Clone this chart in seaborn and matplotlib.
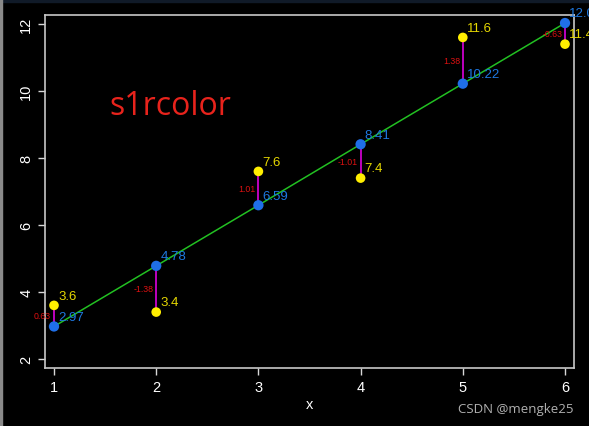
import matplotlib
matplotlib.use("Agg")
import matplotlib.pyplot as plt
import matplotlib.patches as mpatches
import seaborn as sns
import pandas as pd

# ---- data ----
x_vals = [1, 2, 3, 4, 5, 6]
observed = [3.6, 3.4, 7.6, 7.4, 11.6, 11.4]
fitted = [2.97, 4.78, 6.59, 8.41, 10.22, 12.03]
residuals = [0.63, -1.38, 1.01, -1.01, 1.38, -0.63]
x_ticks = [1, 2, 3, 4, 5, 6]
y_ticks = [2, 4, 6, 8, 10, 12]
title_text = "s1rcolor"
x_label = "x"
watermark = "CSDN @mengke25"

df = pd.DataFrame({"x": x_vals, "obs": observed, "fit": fitted, "res": residuals})

sns.set_theme(style="white")
plt.rcParams["font.family"] = ["Liberation Sans", "DejaVu Sans"]

fig = plt.figure(figsize=(5.89, 4.27), dpi=100, facecolor="black")
ax = fig.add_axes([45 / 589, 1 - 369 / 427, (574 - 45) / 589, (369 - 16) / 427])
ax.set_facecolor("black")

# residual segments
ax.vlines(df["x"], df["fit"], df["obs"], colors="#cc00cc", linewidth=1.3, zorder=2)
# fitted line
sns.lineplot(data=df, x="x", y="fit", ax=ax, color="#22c022", linewidth=1.1, zorder=1)
# points
sns.scatterplot(data=df, x="x", y="obs", ax=ax, color="#ffee00", s=48,
                edgecolor="none", zorder=3)
sns.scatterplot(data=df, x="x", y="fit", ax=ax, color="#1f6fe8", s=55,
                edgecolor="none", zorder=3)

for xi, o, f, r in zip(df["x"], df["obs"], df["fit"], df["res"]):
    ax.annotate(f"{o:g}", (xi, o), xytext=(3, 7), textcoords="offset points",
                ha="left", va="center", color="#e6d800", fontsize=9.5, zorder=4,
                annotation_clip=False)
    ax.annotate(f"{f:.2f}", (xi, f), xytext=(3, 7), textcoords="offset points",
                ha="left", va="center", color="#1e78e0", fontsize=9.5, zorder=4,
                annotation_clip=False)
    ax.annotate(f"{r:.2f}", (xi, (o + f) / 2), xytext=(-2, 0), textcoords="offset points",
                ha="right", va="center", color="#dd1111", fontsize=6.3, zorder=4,
                annotation_clip=False)

ax.text(2.135, 9.58, title_text, color="#e8231c", fontsize=23,
        family=["Open Sans", "DejaVu Sans"], ha="center", va="center")

ax.set_xlim(0.912, 6.088)
ax.set_ylim(1.73, 12.27)
ax.set_xticks(x_ticks)
ax.set_yticks(y_ticks)
ax.set_xlabel(x_label, color="white", fontsize=10.5, labelpad=2)
ax.set_ylabel("")
for lab in ax.get_yticklabels():
    lab.set_rotation(90)
    lab.set_va("center")
ax.tick_params(axis="both", colors="#d8d8d8", labelcolor="white", labelsize=10.5,
               length=5, width=1.0, direction="out", bottom=True, left=True)
for sp in ax.spines.values():
    sp.set_color("#c8c8c8")
    sp.set_linewidth(1.2)

fig.text(573 / 589, 1 - 410 / 427, watermark, color="#b0b0b0", fontsize=9.5,
         ha="right", va="center", family=["Open Sans", "DejaVu Sans"])

# figure edges
fig.patches.append(mpatches.Rectangle((0, 1 - 2.5 / 427), 1, 2.5 / 427,
                                      transform=fig.transFigure, color="#101a28", zorder=10))
fig.patches.append(mpatches.Rectangle((0, 0), 2 / 589, 1,
                                      transform=fig.transFigure, color="#8a8a8a", zorder=10))

fig.savefig("out.png", dpi=100, facecolor="black")
